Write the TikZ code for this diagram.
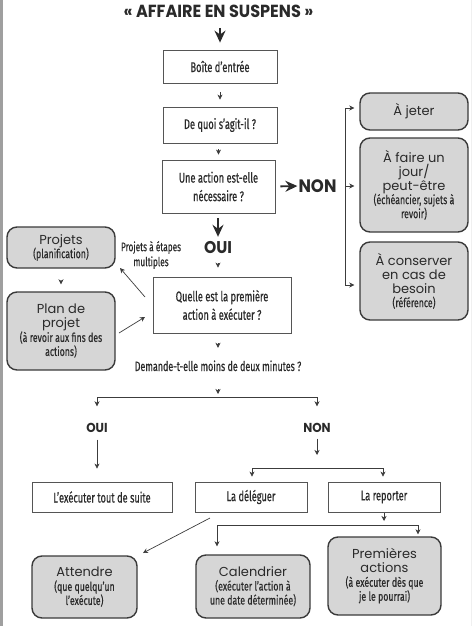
\documentclass[tikz,border=0pt]{standalone}
\usepackage{fontspec}
\setmainfont{Poppins}
\newfontfamily\cond[FakeStretch=0.66,FakeBold=0.5]{Fira Sans}
\newfontfamily\subf[FakeStretch=0.7,FakeBold=0.4]{Fira Sans}
\newfontfamily\heavy[FakeStretch=0.92]{Poppins}
\usetikzlibrary{arrows.meta}
\definecolor{txt}{HTML}{2A2A2A}
\definecolor{wline}{HTML}{555555}
\definecolor{gline}{HTML}{3A3A3A}
\definecolor{gfill}{HTML}{D6D6D6}
\definecolor{arr}{HTML}{3C3C3C}
\newcommand{\sub}[1]{{\subf\fontsize{12.5}{14}\selectfont #1}}
\tikzset{
  wbox/.style={draw=wline, line width=0.8pt, fill=white, align=center, text=txt,
    font=\cond\fontsize{14}{18.5}\selectfont, inner sep=2pt},
  gbox/.style={draw=gline, line width=1.4pt, fill=gfill, rounded corners=10pt,
    align=center, text=txt, font=\fontsize{13}{14}\selectfont, inner sep=2pt},
  bold/.style={font=\heavy\bfseries, text=txt, inner sep=0pt},
  lbl/.style={font=\cond\fontsize{13.5}{15}\selectfont, text=txt, inner sep=0pt, align=center},
  sm/.style={-{Stealth[length=5pt,width=5pt,inset=1.5pt]}, line width=0.7pt, draw=arr},
  ln/.style={line width=0.7pt, draw=arr},
  big/.style={-{Stealth[length=12pt,width=11pt,inset=4pt]}, line width=1.8pt, draw=txt}
}
\begin{document}
\begin{tikzpicture}[x=1pt,y=-1pt]
\useasboundingbox (0,0) rectangle (474,626);
\fill[gray!75] (0,0) rectangle (2.5,626);
\draw[gray!12, line width=0.8pt] (471,0) -- (471,626);

% title
\node[bold, font=\heavy\bfseries\fontsize{17.5}{19}\selectfont, text height=12.5pt, text depth=0pt] (title) at (218.5,11.5) {« AFFAIRE EN SUSPENS »};

% main column
\node[wbox, minimum width=114pt, minimum height=33pt] (boite) at (220,66.5) {Boîte d’entrée};
\node[wbox, minimum width=114pt, minimum height=36pt] (dequoi) at (220,125) {De quoi s’agit-il ?};
\node[wbox, minimum width=113pt, minimum height=53pt] (une) at (218.5,186.5) {Une action est-elle\\nécessaire ?};
\node[bold, font=\heavy\bfseries\fontsize{17}{19}\selectfont, text height=12pt, text depth=0pt] (oui1) at (218,247) {OUI};
\node[bold, font=\heavy\bfseries\fontsize{18}{20}\selectfont, text height=13pt, text depth=0pt] (non1) at (317.5,186) {NON};
\node[wbox, minimum width=138pt, minimum height=56pt] (quelle) at (222,305) {Quelle est la première\\action à exécuter ?};
\node[lbl, text height=10pt, text depth=2pt] (demande) at (218,367) {Demande-t-elle moins de deux minutes ?};

% right column
\node[gbox, minimum width=108pt, minimum height=37pt] (jeter) at (414,111.5) {À jeter};
\node[gbox, minimum width=108pt, minimum height=94pt] (faire) at (414,185) {À faire un\\jour/\\peut-être\\\sub{(échéancier, sujets à}\\\sub{revoir)}};
\node[gbox, minimum width=108pt, minimum height=78pt] (conserver) at (414,281) {À conserver\\en cas de\\besoin\\\sub{(référence)}};

% left column
\node[gbox, minimum width=108pt, minimum height=41pt] (projets) at (61,247.5) {Projets\\\sub{(planification)}};
\node[gbox, minimum width=108pt, minimum height=78pt] (plan) at (61,331) {Plan de\\projet\\\sub{(à revoir aux fins des}\\\sub{actions)}};
\node[lbl, font=\cond\fontsize{12.5}{15}\selectfont] (multi) at (151,255) {Projets à étapes\\multiples};

% lower part
\node[bold, font=\heavy\bfseries\fontsize{13}{15}\selectfont, text height=9pt, text depth=0pt] (oui2) at (97,428) {OUI};
\node[bold, font=\heavy\bfseries\fontsize{13}{15}\selectfont, text height=9pt, text depth=0pt] (non2) at (317,428) {NON};
\node[wbox, minimum width=140pt, minimum height=30pt] (execute) at (102,497) {L’exécuter tout de suite};
\node[wbox, minimum width=112pt, minimum height=30pt] (deleguer) at (251,497) {La déléguer};
\node[wbox, minimum width=112pt, minimum height=30pt] (reporter) at (384,497) {La reporter};
\node[gbox, minimum width=105pt, minimum height=62pt] (attendre) at (84.5,587) {Attendre\\\sub{(que quelqu’un}\\\sub{l’exécute)}};
\node[gbox, minimum width=114pt, minimum height=63pt] (calendrier) at (253,586.5) {Calendrier\\\sub{(exécuter l’action à}\\\sub{une date déterminée)}};
\node[gbox, minimum width=113pt, minimum height=78pt] (premieres) at (384.5,576) {Premières\\actions\\\sub{(à exécuter dès que}\\\sub{je le pourrai)}};

% coordinates
\coordinate (brT) at (345,108);
\coordinate (brM) at (345,186);
\coordinate (brB) at (345,285);
\coordinate (p1) at (145,297);
\coordinate (p2) at (120,268);
\coordinate (q1) at (119,333);
\coordinate (q2) at (145,317);
\coordinate (s0) at (218,397);
\coordinate (sL) at (97,397);
\coordinate (sR) at (317,397);
\coordinate (t0) at (317,468);
\coordinate (tL) at (252,468);
\coordinate (tR) at (383,468);
\coordinate (d1) at (210,518);
\coordinate (d2) at (143,553);
\coordinate (u0) at (384,525);
\coordinate (uL) at (217,525);
\coordinate (uR) at (418,525);

% connectors
\draw[big, shorten <=10pt, shorten >=7pt] (title.south -| boite.north) -- (boite.north);
\draw[sm, shorten <=9pt, shorten >=7pt] (boite.south) -- (dequoi.north);
\draw[sm, shorten <=6pt, shorten >=5pt] (dequoi.south -| une.north) -- (une.north);
\draw[big, shorten <=5pt, shorten >=4pt] (une.south -| oui1.north) -- (oui1.north);
\draw[big, shorten <=5pt, shorten >=1pt] (une.east) -- (non1.west);
\draw[sm, shorten <=10pt, shorten >=9pt] (oui1.south) -- (oui1.south |- quelle.north);
\draw[sm, shorten <=10pt, shorten >=13pt] (quelle.south -| demande.north) -- (demande.north);

\draw[ln] (brT) -- (brB);
\draw[sm, shorten >=5pt] (brT) -- (brT -| jeter.west);
\draw[sm, shorten >=5pt] (brM) -- (brM -| faire.west);
\draw[sm, shorten >=5pt] (brB) -- (brB -| conserver.west);

\draw[sm] (p1) -- (p2);
\draw[sm] (q1) -- (q2);
\draw[sm, shorten <=12pt, shorten >=7pt] (projets.south) -- (plan.north);

\draw[sm, shorten <=16pt, shorten >=3pt] (demande.south) -- (s0);
\draw[ln] (sL) -- (sR);
\draw[sm, shorten >=17pt] (sL) -- (oui2.north);
\draw[sm, shorten >=17pt] (sR) -- (non2.north);
\draw[sm, shorten <=7pt, shorten >=13pt] (oui2.south) -- (oui2.south |- execute.north);
\draw[sm, shorten <=6pt, shorten >=13pt] (non2.south) -- (t0);
\draw[ln] (tL) -- (tR);
\draw[sm, shorten >=5pt] (tL) -- (tL |- deleguer.north);
\draw[sm, shorten >=5pt] (tR) -- (tR |- reporter.north);

\draw[sm] (d1) -- (d2);
\draw[sm, shorten <=1pt, shorten >=4pt] (reporter.south) -- (u0);
\draw[ln] (uL) -- (uR);
\draw[sm, shorten >=8pt] (uL) -- (uL |- calendrier.north);
\draw[sm, shorten >=2pt] (uR) -- (uR |- premieres.north);
\end{tikzpicture}
\end{document}
